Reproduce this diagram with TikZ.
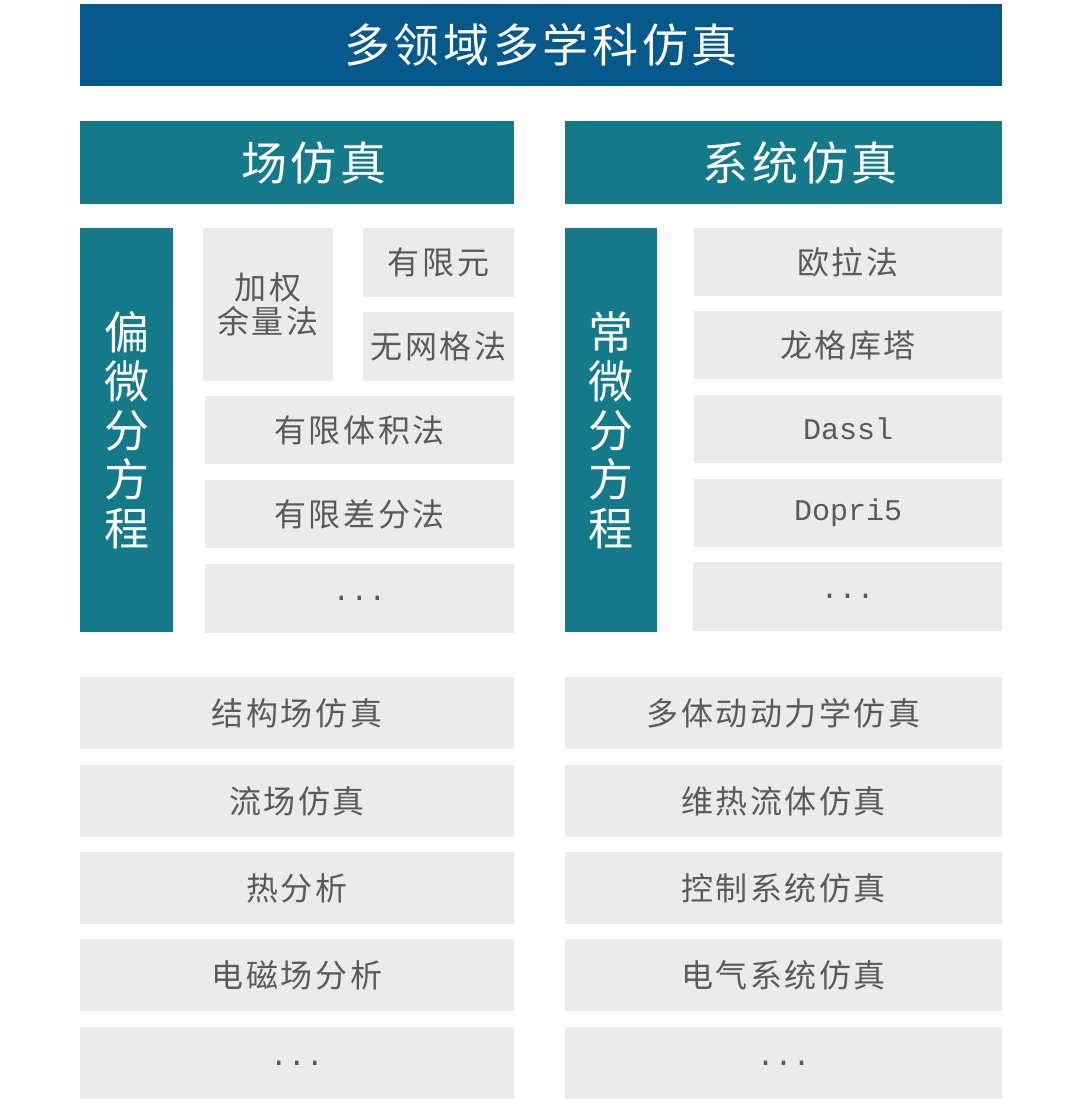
\documentclass[tikz,border=0pt]{standalone}
\usepackage{fontspec}
\newfontfamily\cjk[LetterSpace=8]{Noto Sans CJK SC}
\newfontfamily\mono{Liberation Mono}
\definecolor{titleblue}{RGB}{4,89,138}
\definecolor{headteal}{RGB}{20,122,138}
\definecolor{cellgray}{RGB}{235,235,235}
\definecolor{textgray}{RGB}{90,90,90}
\newcommand{\cell}[7]{
\node[#2, minimum width={(#5-#3)*1pt}, minimum height={(#6-#4)*1pt}] (#1) at ({(#3+#5)/2},{(#4+#6)/2}) {#7};
}

\begin{document}
\begin{tikzpicture}[x=1pt,y=-1pt,
bar/.style={fill=titleblue, text=white, inner sep=0pt, outer sep=0pt, font=\cjk\fontsize{46}{54}\selectfont},
head/.style={fill=headteal, text=white, inner sep=0pt, outer sep=0pt, font=\cjk\fontsize{46}{52}\selectfont},
headshift/.style={head, execute at begin node={\hspace*{34pt}}},
eqn/.style={head, align=center, font=\cjk\fontsize{45}{49}\selectfont},
cellbox/.style={fill=cellgray, text=textgray, inner sep=0pt, outer sep=0pt, align=center, font=\cjk\fontsize{32}{34}\selectfont},
monobox/.style={cellbox, font=\mono\fontsize{30}{34}\selectfont}]
\useasboundingbox (0,0) rectangle (1080,1103);

\cell{title}{bar}{80}{4}{1002}{86}{多领域多学科仿真}

\cell{field}{headshift}{80}{121}{514}{204}{场仿真}
\cell{system}{headshift}{565}{121}{1002}{204}{系统仿真}

% partial differential equations
\cell{pde}{eqn}{80}{228}{173}{632}{偏\\微\\分\\方\\程}
\cell{wrm}{cellbox}{203}{228}{333}{381}{加权\\余量法}
\cell{fem}{cellbox}{363}{228}{514}{297}{有限元}
\cell{mesh}{cellbox}{363}{312}{514}{381}{无网格法}
\cell{fvm}{cellbox}{205}{396}{514}{464}{有限体积法}
\cell{fdm}{cellbox}{205}{480}{514}{548}{有限差分法}
\cell{pdemore}{monobox}{205}{564}{514}{633}{...}

% ordinary differential equations
\cell{ode}{eqn}{565}{228}{657}{632}{常\\微\\分\\方\\程}
\cell{euler}{cellbox}{694}{228}{1002}{296}{欧拉法}
\cell{rk}{cellbox}{694}{311}{1002}{379}{龙格库塔}
\cell{dassl}{monobox}{694}{395}{1002}{463}{Dassl}
\cell{dopri}{monobox}{694}{479}{1002}{547}{Dopri5}
\cell{odemore}{monobox}{693}{562}{1002}{631}{...}

% applications
\cell{struct}{cellbox}{80}{677}{514}{749}{结构场仿真}
\cell{flow}{cellbox}{80}{765}{514}{837}{流场仿真}
\cell{heat}{cellbox}{80}{852}{514}{924}{热分析}
\cell{emag}{cellbox}{80}{939}{514}{1011}{电磁场分析}
\cell{fieldmore}{monobox}{80}{1027}{514}{1099}{...}

\cell{mbd}{cellbox}{565}{677}{1002}{749}{多体动动力学仿真}
\cell{thermo}{cellbox}{565}{765}{1002}{837}{维热流体仿真}
\cell{ctrl}{cellbox}{565}{852}{1002}{924}{控制系统仿真}
\cell{elec}{cellbox}{565}{939}{1002}{1011}{电气系统仿真}
\cell{systemmore}{monobox}{565}{1027}{1002}{1099}{...}

\end{tikzpicture}
\end{document}
